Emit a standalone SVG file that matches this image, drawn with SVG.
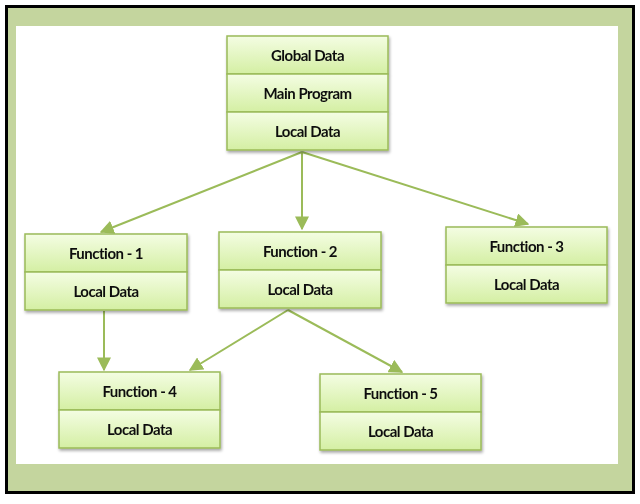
<svg xmlns="http://www.w3.org/2000/svg" width="640" height="504" viewBox="0 0 640 504">
<defs>
<linearGradient id="g" x1="0" y1="0" x2="0" y2="1"><stop offset="0" stop-color="#f4fde3"/><stop offset="1" stop-color="#d4efa3"/></linearGradient>
<filter id="sh" x="-10%" y="-10%" width="120%" height="130%"><feDropShadow dx="1" dy="2" stdDeviation="1.5" flood-color="#000" flood-opacity="0.35"/></filter>
<marker id="ar" viewBox="0 0 10 10" refX="9" refY="5" markerWidth="7" markerHeight="7" orient="auto-start-reverse"><path d="M0,0 L10,5 L0,10 z" fill="#9bbb59"/></marker>
</defs>
<style>
.c{fill:url(#g);stroke:#9bbb59;stroke-width:1.5}
.t{font-family:Lato,"Open Sans",sans-serif;font-weight:bold;font-size:15px;fill:#111;text-anchor:middle;letter-spacing:-0.5px}
.l{stroke:#9bbb59;stroke-width:2;fill:none;marker-end:url(#ar)}
</style>
<rect x="6.5" y="6.5" width="627" height="486" fill="#c4d59e" stroke="#000" stroke-width="3"/>
<rect x="16" y="26" width="602" height="438" fill="#fff"/>
<g id="connectors">
<line class="l" x1="302" y1="152" x2="101" y2="232"/>
<line class="l" x1="302" y1="152" x2="302" y2="229"/>
<line class="l" x1="302" y1="152" x2="528" y2="224"/>
<line class="l" x1="104" y1="311" x2="104" y2="370"/>
<line class="l" x1="288" y1="310" x2="190" y2="370"/>
<line class="l" x1="288" y1="310" x2="402" y2="372"/>
</g>
<g id="main" filter="url(#sh)">
<rect class="c" x="227" y="36" width="161" height="38"/><rect class="c" x="227" y="74" width="161" height="38"/><rect class="c" x="227" y="112" width="161" height="38"/>
<text class="t" x="307.5" y="61">Global Data</text><text class="t" x="307.5" y="99">Main Program</text><text class="t" x="307.5" y="137">Local Data</text>
</g>
<g id="f1" filter="url(#sh)">
<rect class="c" x="25" y="234" width="162" height="38"/><rect class="c" x="25" y="272" width="162" height="38"/>
<text class="t" x="106" y="259">Function - 1</text><text class="t" x="106" y="297">Local Data</text>
</g>
<g id="f2" filter="url(#sh)">
<rect class="c" x="219" y="232" width="162" height="38"/><rect class="c" x="219" y="270" width="162" height="38"/>
<text class="t" x="300" y="257">Function - 2</text><text class="t" x="300" y="295">Local Data</text>
</g>
<g id="f3" filter="url(#sh)">
<rect class="c" x="446" y="227" width="161" height="38"/><rect class="c" x="446" y="265" width="161" height="38"/>
<text class="t" x="526.5" y="252">Function - 3</text><text class="t" x="526.5" y="290">Local Data</text>
</g>
<g id="f4" filter="url(#sh)">
<rect class="c" x="59" y="372" width="161" height="38"/><rect class="c" x="59" y="410" width="161" height="38"/>
<text class="t" x="139.5" y="397">Function - 4</text><text class="t" x="139.5" y="435">Local Data</text>
</g>
<g id="f5" filter="url(#sh)">
<rect class="c" x="320" y="374" width="161" height="38"/><rect class="c" x="320" y="412" width="161" height="38"/>
<text class="t" x="400.5" y="399">Function - 5</text><text class="t" x="400.5" y="437">Local Data</text>
</g>
</svg>
